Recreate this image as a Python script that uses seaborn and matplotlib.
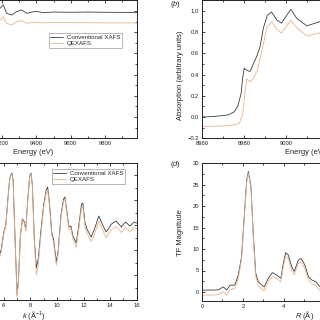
import numpy as np
import matplotlib
matplotlib.use("Agg")
import matplotlib.pyplot as plt
from matplotlib.ticker import MultipleLocator
import seaborn as sns

# (a) full absorption spectrum, visible part only
e_a = [9188, 9207, 9227, 9256, 9285, 9314, 9344, 9382, 9402, 9440, 9500, 9600, 9700, 9800, 9900, 9985]
conv_a = [1.025, 1.057, 0.978, 0.962, 0.993, 1.010, 0.978, 0.993, 0.995, 0.985, 0.990, 0.988, 0.990, 0.988, 0.987, 0.987]
qe_a = [0.915, 0.946, 0.884, 0.868, 0.900, 0.910, 0.884, 0.894, 0.893, 0.888, 0.893, 0.890, 0.890, 0.888, 0.888, 0.887]

# (b) XANES region
e_b_conv = [8960, 8966, 8972.5, 8975.4, 8977, 8978.6, 8979.4, 8980.1, 8981.3, 8982.9, 8984.4, 8986,
            8987.6, 8989.2, 8991.1, 8993.1, 8995.6, 8997.8, 9000.3, 9002.3, 9005.1, 9009.9, 9013, 9016.2, 9020]
conv_b = [0.0, 0.005, 0.02, 0.05, 0.10, 0.22, 0.38, 0.46, 0.44, 0.43, 0.50, 0.57,
          0.66, 0.84, 0.96, 0.99, 0.915, 0.885, 0.96, 1.015, 0.93, 0.86, 0.88, 0.90, 0.91]
e_b_qe = [8960, 8970, 8975, 8977.8, 8979.4, 8980.6, 8981.3, 8983, 8984.5, 8986.3, 8988.6, 8990.8,
          8993.1, 8995.6, 8997.8, 9000.3, 9002.3, 9005.1, 9010, 9013, 9016.2, 9020]
qe_b = [-0.09, -0.085, -0.075, -0.06, 0.035, 0.25, 0.36, 0.33, 0.365, 0.44, 0.63, 0.84,
        0.90, 0.83, 0.79, 0.86, 0.915, 0.84, 0.765, 0.78, 0.795, 0.805]

# (c) k-space EXAFS
k_c = [5.5, 5.6, 5.8, 6.0, 6.15, 6.3, 6.45, 6.6, 6.7, 6.85, 7.0, 7.1, 7.25, 7.4, 7.55, 7.65, 7.8, 7.95,
       8.05, 8.15, 8.3, 8.45, 8.6, 8.8, 9.0, 9.2, 9.3, 9.45, 9.6, 9.75, 9.95, 10.1, 10.3, 10.5, 10.6,
       10.75, 10.9, 11.05, 11.2, 11.45, 11.65, 11.85, 11.95, 12.1, 12.25, 12.58, 12.85, 13.15, 13.4,
       13.7, 14.1, 14.45, 14.85, 15.15, 15.5, 15.8, 16.0]
conv_c = [-1.48, -1.32, -1.0, -0.28, 0.0, 1.0, 1.88, 2.08, 1.8, -0.6, -2.8, -2.2, -0.4, 0.24, 0.12, -0.2,
          1.0, 1.96, 2.08, 1.6, -0.6, -1.72, -1.32, -0.2, 0.8, 1.4, 1.52, 0.8, -0.28, -0.6, -1.48, -1.0,
          0.4, 1.04, 1.12, 0.52, -0.08, -0.04, -0.44, -0.72, 0.0, 0.84, 0.88, 0.12, -0.16, -0.48, -0.12,
          0.36, 0.04, -0.28, 0.04, 0.16, -0.08, 0.12, -0.04, 0.12, 0.08]
qe_c = [-1.6, -1.45, -1.1, -0.35, -0.05, 0.95, 1.85, 2.04, 1.75, -0.65, -2.9, -2.3, -0.45, 0.2, 0.08, -0.25,
        0.95, 1.92, 2.04, 1.55, -0.7, -2.0, -1.55, -0.35, 0.7, 1.3, 1.42, 0.7, -0.38, -0.72, -1.62, -1.12,
        0.3, 0.96, 1.04, 0.42, -0.18, -0.14, -0.56, -0.9, -0.14, 0.7, 0.74, -0.04, -0.32, -0.66, -0.32,
        0.14, -0.16, -0.5, -0.18, -0.06, -0.3, -0.1, -0.26, -0.1, -0.14]

# (d) Fourier transform magnitude
r_d = [0.0, 0.5, 0.8, 1.04, 1.2, 1.37, 1.6, 1.77, 1.93, 2.06, 2.18, 2.26, 2.39, 2.5, 2.62, 2.75, 2.91,
       3.04, 3.23, 3.43, 3.64, 3.85, 3.97, 4.08, 4.21, 4.37, 4.5, 4.7, 4.83, 5.02, 5.19, 5.35, 5.55, 5.76, 5.9]
conv_d = [0.45, 0.45, 0.5, 1.2, 0.45, 1.6, 1.6, 3.9, 8.2, 17.5, 26.0, 28.0, 24.5, 13.6, 4.35, 2.4, 1.6,
          1.2, 3.2, 4.5, 3.95, 3.2, 6.7, 9.15, 8.6, 5.9, 4.8, 7.4, 7.8, 6.3, 3.6, 2.8, 2.4, 1.2, 0.8]
qe_d = [-0.7, -0.7, -0.65, 0.1, -0.7, 0.6, 0.8, 3.2, 7.6, 17.0, 25.6, 27.6, 24.0, 13.0, 3.6, 1.5, 0.7,
        0.3, 2.4, 3.6, 3.1, 2.4, 5.9, 8.3, 7.8, 5.0, 4.0, 6.6, 7.0, 5.5, 2.8, 1.9, 1.5, 0.3, -0.1]

CONV_COLOR = "#3c3c3c"
QE_COLOR = "#eab58c"

sns.set_theme(style="ticks")
plt.rcParams["font.family"] = ["Liberation Sans", "DejaVu Sans"]
plt.rcParams["mathtext.fontset"] = "custom"
plt.rcParams["mathtext.rm"] = "Liberation Sans"
plt.rcParams["mathtext.it"] = "Liberation Sans:italic"

W = H = 320.0
fig = plt.figure(figsize=(3.2, 3.2), dpi=100)
fig.patch.set_facecolor("white")


def px_axes(left, top, width, height):
    return fig.add_axes([left / W, 1 - (top + height) / H, width / W, height / H])


def style_axes(ax, xmaj, xmin, ymaj, ymin):
    ax.set_facecolor("white")
    for s in ax.spines.values():
        s.set_linewidth(0.7)
        s.set_color("#222222")
    ax.xaxis.set_major_locator(MultipleLocator(xmaj))
    ax.xaxis.set_minor_locator(MultipleLocator(xmin))
    ax.yaxis.set_major_locator(MultipleLocator(ymaj))
    ax.yaxis.set_minor_locator(MultipleLocator(ymin))
    ax.tick_params(which="both", direction="in", top=True, right=True, width=0.6, colors="#222222",
                   labelsize=4.2, pad=2.2)
    ax.tick_params(which="major", length=2.3)
    ax.tick_params(which="minor", length=1.2)
    ax.set_xlabel("")
    ax.set_ylabel("")


def add_legend(ax, x, y):
    leg = ax.legend(loc="upper left", bbox_to_anchor=(x, y), borderaxespad=0, fontsize=4.4,
                    frameon=True, fancybox=False, framealpha=1, edgecolor="#999999",
                    handlelength=2.1, handletextpad=0.6, borderpad=0.25, labelspacing=0.15)
    leg.get_frame().set_linewidth(0.5)


lw = 0.6

# (a)
ax_a = px_axes(-69.3, 0.4, 206, 137.8)
sns.lineplot(x=e_a, y=conv_a, ax=ax_a, color=CONV_COLOR, lw=lw, label="Conventional XAFS")
sns.lineplot(x=e_a, y=qe_a, ax=ax_a, color=QE_COLOR, lw=lw, label="QEXAFS")
ax_a.set_xlim(8784, 9985)
ax_a.set_ylim(-0.2, 1.1)
style_axes(ax_a, 200, 100, 0.2, 0.1)
add_legend(ax_a, 0.574, 0.763)

# (b)
ax_b = px_axes(202, 0.4, 206, 137.8)
sns.lineplot(x=e_b_conv, y=conv_b, ax=ax_b, color=CONV_COLOR, lw=lw)
sns.lineplot(x=e_b_qe, y=qe_b, ax=ax_b, color=QE_COLOR, lw=lw)
ax_b.set_xlim(8960, 9058)
ax_b.set_ylim(-0.2, 1.1)
style_axes(ax_b, 20, 10, 0.2, 0.1)

# (c)
ax_c = px_axes(-69.3, 163, 206, 137)
sns.lineplot(x=k_c, y=conv_c, ax=ax_c, color=CONV_COLOR, lw=lw, label="Conventional XAFS")
sns.lineplot(x=k_c, y=qe_c, ax=ax_c, color=QE_COLOR, lw=lw, label="QEXAFS")
ax_c.set_xlim(0.5, 16)
ax_c.set_ylim(-3.0, 2.48)
style_axes(ax_c, 2, 1, 1, 0.5)
add_legend(ax_c, 0.587, 0.954)

# (d)
ax_d = px_axes(202, 163, 206, 137.6)
sns.lineplot(x=r_d, y=conv_d, ax=ax_d, color=CONV_COLOR, lw=lw)
sns.lineplot(x=r_d, y=qe_d, ax=ax_d, color=QE_COLOR, lw=lw)
ax_d.set_xlim(0, 10.05)
ax_d.set_ylim(-2, 30)
style_axes(ax_d, 2, 1, 5, 2.5)

# axis labels and panel letters
def ftext(x, y, s, **kw):
    fig.text(x / W, 1 - y / H, s, fontsize=5.4, color="#222222", ha="center", va="center", **kw)


ftext(33, 153, "Energy (eV)")
ftext(305, 153, "Energy (eV)")
ftext(34, 315, r"$k$ (Å$^{-1}$)")
ftext(305, 315, r"$R$ (Å)")
ftext(181, 75, "Absorption (arbitrary units)", rotation=90)
ftext(181, 233, "TF Magnitude", rotation=90)
ftext(175, 5, r"($b$)")
ftext(175, 165, r"($d$)")

fig.savefig("out.png", dpi=100)
plt.close(fig)
